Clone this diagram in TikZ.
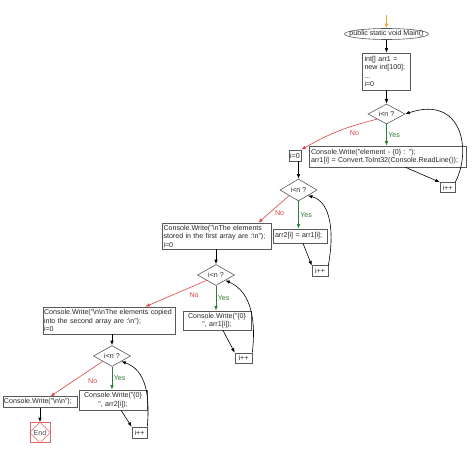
\documentclass[tikz,border=0pt]{standalone}
\usepackage{fontspec}
\setmainfont{Liberation Sans}
\usepackage{tikz}
\usetikzlibrary{shapes.geometric}
\usetikzlibrary{arrows.meta,arrows}

\definecolor{noRed}{HTML}{DD4444}
\definecolor{yesGreen}{HTML}{2E7D32}
\definecolor{startOrange}{HTML}{F5A623}
\definecolor{endRed}{HTML}{E06A6A}

\begin{document}
\begin{tikzpicture}[x=1pt, y=1pt, >={Latex[length=4.5pt, width=3.5pt]},
    every node/.style={font=\fontsize{7.1}{8.5}\selectfont, text=black!85},
    stmt/.style={draw=black!65, line width=0.6pt, inner sep=2pt, align=left},
    cstmt/.style={draw=black!65, line width=0.6pt, inner sep=2pt, align=center},
    cond/.style={draw=black!65, line width=0.6pt, diamond, aspect=2, inner sep=0pt, minimum width=37pt, minimum height=21pt},
    incbox/.style={draw=black!65, line width=0.6pt, inner sep=1pt, minimum width=16pt, minimum height=10.5pt},
    yesline/.style={->, draw=yesGreen, line width=0.6pt},
    noline/.style={->, draw=noRed, line width=0.6pt},
    yes label/.style={text=yesGreen, inner sep=1.5pt},
    no label/.style={text=noRed, inner sep=1pt},
    every path/.style={line width=0.6pt}]

        \useasboundingbox (0,0) rectangle (474,-449);

        % Start and first block
        \coordinate (start) at (386.5,-15);
        \node (main) at (386.5,-34) [draw=black!65, ellipse, inner xsep=-8pt, inner ysep=0pt, minimum width=84pt, minimum height=11pt] {public static void Main()};
        \node (decl) at (386.5,-71.5) [stmt, text width=44pt, minimum height=37pt] {int[] arr1 =\\new int[100];\\...\\i=0};

        % Loop 1: reading
        \node (condA) at (386.5,-114) [cond, minimum height=20pt] {i<n ?};
        \node (readbox) at (387.5,-156.5) [stmt, text width=153pt, minimum height=21pt] {Console.Write("element - \{0\} : ");\\arr1[i] = Convert.ToInt32(Console.ReadLine());};
        \node (incA) at (447.5,-187.5) [incbox, minimum width=15pt, minimum height=10pt] {i++};
        \node (initA) at (295,-155.5) [draw=black!65, inner sep=1pt, minimum width=12pt, minimum height=11pt] {i=0};

        % Loop 2: copying
        \node (condB) at (298.5,-190) [cond, minimum height=22pt] {i<n ?};
        \node (copybox) at (300,-236) [stmt, text width=50pt, minimum height=14pt] {arr2[i] = arr1[i];};
        \node (incB) at (320,-271) [incbox] {i++};
        \node (printAhead) at (216.5,-236) [stmt, text width=105pt, minimum height=26pt, inner sep=1.5pt, text width=106pt] {Console.Write("\textbackslash nThe elements\\stored in the first array are :\textbackslash n");\\i=0};

        % Loop 3: first array output
        \node (condC) at (216,-275) [cond] {i<n ?};
        \node (printA) at (217,-320.5) [cstmt, text width=64pt, minimum height=19pt] {Console.Write("\{0\}\\", arr1[i]);};
        \node (incC) at (243.5,-358) [incbox, minimum width=17pt, minimum height=10pt] {i++};
        \node (printBhead) at (109,-320.5) [stmt, inner sep=1pt, text width=130pt, minimum height=27pt] {Console.Write("\textbackslash n\textbackslash nThe elements copied\\into the second array are :\textbackslash n");\\i=0};

        % Loop 4: second array output
        \node (condD) at (112,-356) [cond] {i<n ?};
        \node (printB) at (113,-400) [cstmt, text width=64pt, minimum height=20pt] {Console.Write("\{0\}\\", arr2[i]);};
        \node (incD) at (139.5,-432.5) [incbox, minimum width=15pt, minimum height=11pt] {i++};
        \node (newline) at (40,-402) [stmt, inner sep=1pt, text width=72pt, minimum height=10.5pt] {Console.Write("\textbackslash n\textbackslash n");};
        \node (end) at (40,-432.5) [draw=endRed, minimum width=20pt, minimum height=20pt, inner sep=0pt, text=black!70] {End};
        \draw[draw=endRed] (end.north) -- (end.east) -- (end.south) -- (end.west) -- cycle;

        % Arrows
        \draw[->, draw=startOrange] (start) -- (main.north);
        \draw[->] (main.south) -- (decl.north);
        \draw[->] (decl.south) -- (condA.north);
        \draw[yesline] (condA.south) -- (condA.south |- readbox.north) node[midway, right, yes label] {Yes};
        \draw[noline] (condA.south west) to[bend right=8] node[pos=0.35, below right, no label, yshift=-2pt] {No} (initA.north east);
        \draw[->] ([xshift=18pt]readbox.south) -- (incA.north west);
        \draw[->] (incA.north east) .. controls (472,-150) and (462,-95) .. (condA.east);

        \draw[->] (initA.south -| condB.north) -- (condB.north);
        \draw[yesline] (condB.south) -- (condB.south |- copybox.north) node[midway, right, yes label] {Yes};
        \draw[noline] (condB.south west) -- ([xshift=-13pt]printAhead.north east) node[midway, below right, no label] {No};
        \draw[->] ([xshift=3pt]copybox.south) -- (incB.north west);
        \draw[->] (incB.north east) .. controls (334,-235) and (332,-202) .. (condB.south east);

        \draw[->] (printAhead.south -| condC.north) -- (condC.north);
        \draw[yesline] (condC.south) -- (condC.south |- printA.north) node[midway, right, yes label] {Yes};
        \draw[noline] (condC.south west) -- ([xshift=-30pt]printBhead.north east) node[pos=0.3, below right, no label, yshift=-3pt] {No};
        \draw[->] ([xshift=6pt]printA.south) -- (incC.north west);
        \draw[->] (incC.north east) .. controls (256,-322) and (252,-292) .. (condC.south east);

        \draw[->] (printBhead.south -| condD.north) -- (condD.north);
        \draw[yesline] (condD.south) -- (condD.south |- printB.north) node[midway, right, yes label] {Yes};
        \draw[noline] (condD.south west) -- ([xshift=-27pt]newline.north east) node[pos=0.3, below right, no label, yshift=-5pt] {No};
        \draw[->] ([xshift=8pt]printB.south) -- (incD.north west);
        \draw[->] (incD.north east) .. controls (150,-395) and (146,-370) .. (condD.south east);
        \draw[->] (newline.south) -- (end.north);

    \end{tikzpicture}
\end{document}
